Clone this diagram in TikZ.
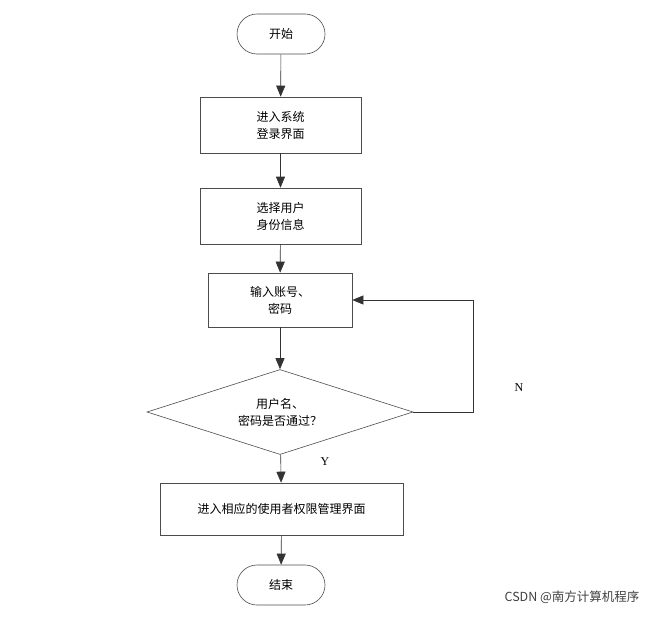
\documentclass[tikz,border=0pt]{standalone}
\usepackage{fontspec}
\setmainfont{Liberation Serif}
\newfontfamily\cjk{Noto Sans CJK SC}
\usetikzlibrary{shapes.geometric,arrows.meta}
\begin{document}
\begin{tikzpicture}[x=1pt,y=-1pt,
  every node/.style={font=\cjk\fontsize{12}{17}\selectfont,align=center},
  box/.style={draw=black!70,line width=0.6pt,inner sep=0pt},
  term/.style={draw=black!70,line width=0.6pt,rounded corners=20pt,minimum width=88pt,minimum height=40pt},
  arr/.style={-{Triangle[width=9pt,length=11pt]},line width=0.6pt,draw=black!80}]
\useasboundingbox (0,0) rectangle (656,616);
\node[term] (s) at (281,34) {开始};
\node[box,minimum width=161pt,minimum height=56pt] (b1) at (280.5,125) {进入系统\\登录界面};
\node[box,minimum width=161pt,minimum height=56pt] (b2) at (280.5,216) {选择用户\\身份信息};
\node[box,minimum width=144pt,minimum height=54pt] (b3) at (280,300) {输入账号、\\密码};
\node[diamond,draw=black!70,line width=0.6pt,aspect=3.13,minimum width=266pt,minimum height=85pt,inner sep=0pt] (d) at (280,412) {用户名、\\密码是否通过？};
\node[box,minimum width=243pt,minimum height=52pt] (b4) at (281.5,509) {进入相应的使用者权限管理界面};
\node[term] (e) at (281,585) {结束};
\coordinate (c1) at (473,412);
\coordinate (c2) at (473,300);
\draw[arr] (s) -- (b1);
\draw[arr] (b1) -- (b2);
\draw[arr] (b2) -- (b3);
\draw[arr] (b3) -- (d);
\draw[arr] (d) -- (b4);
\draw[arr] (b4) -- (e);
\draw[arr] (d.east) -- (c1) -- (c2) -- (b3.east);
\node[font=\fontsize{12}{14}\selectfont] (n) at (519,388) {N};
\node[font=\fontsize{12}{14}\selectfont] (y) at (325,462) {Y};
\node[font=\cjk\fontsize{12.5}{14}\selectfont,text=black!75,anchor=east] (w) at (643,597) {CSDN @南方计算机程序};
\end{tikzpicture}
\end{document}
